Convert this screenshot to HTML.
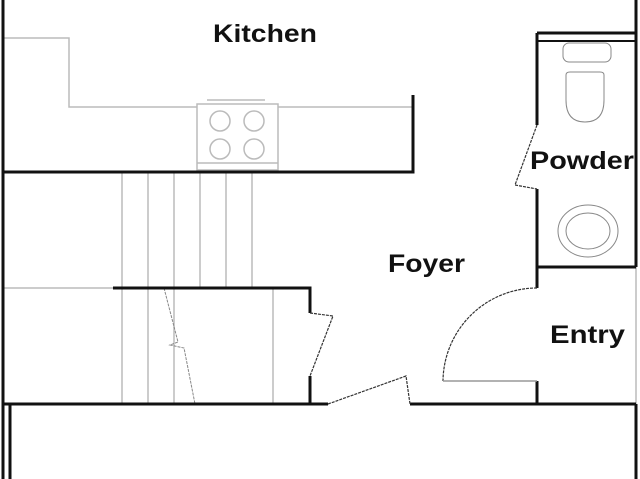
<!DOCTYPE html>
<html><head><style>body{margin:0;background:#fff}svg{display:block}text{font-family:"Liberation Sans",sans-serif;font-size:25px;fill:#111;font-weight:bold}</style></head><body>
<svg width="640" height="479" viewBox="0 0 640 479">
<g fill="none" stroke="#bbb" stroke-width="1.5">
<polyline points="3,38 69,38 69,107 413,107"/>
<rect x="197" y="104" width="81" height="66" fill="#fff"/>
<line x1="197" y1="163" x2="278" y2="163"/>
<line x1="207" y1="100" x2="265" y2="100"/>
<circle cx="220" cy="121" r="10"/><circle cx="254" cy="121" r="10"/>
<circle cx="220" cy="149" r="10"/><circle cx="254" cy="149" r="10"/>
<line x1="122" y1="172" x2="122" y2="404"/><line x1="148" y1="172" x2="148" y2="404"/><line x1="174" y1="172" x2="174" y2="404"/>
<line x1="200" y1="172" x2="200" y2="288"/><line x1="226" y1="172" x2="226" y2="288"/><line x1="252" y1="172" x2="252" y2="288"/>
<line x1="273" y1="288" x2="273" y2="404"/>
<line x1="3" y1="288" x2="113" y2="288"/>
<line x1="636" y1="267" x2="636" y2="404"/>
</g>
<polyline points="164,288 178,342 170,345 184,348 195,404" fill="none" stroke="#888" stroke-width="1" stroke-dasharray="3,1"/>
<g fill="none" stroke="#111" stroke-width="3">
<line x1="3" y1="0" x2="3" y2="479"/>
<line x1="10" y1="404" x2="10" y2="479"/>
<polyline points="3,172 413,172 413,95"/>
<polyline points="113,288 310,288 310,313"/>
<line x1="310" y1="376" x2="310" y2="404"/>
<line x1="3" y1="404" x2="328" y2="404"/>
<line x1="410" y1="404" x2="636" y2="404"/>
<line x1="636" y1="0" x2="636" y2="267"/>
<line x1="636" y1="404" x2="636" y2="479"/>
<line x1="537" y1="33" x2="636" y2="33"/>
<line x1="537" y1="41" x2="636" y2="41" stroke-width="2"/>
<line x1="537" y1="33" x2="537" y2="125"/>
<line x1="537" y1="189" x2="537" y2="288"/>
<line x1="537" y1="267" x2="636" y2="267"/>
<line x1="537" y1="381" x2="537" y2="404"/>
</g>
<g fill="none" stroke="#333" stroke-width="1.2" stroke-dasharray="3,1">
<polyline points="310,313 333,316 310,376"/>
<polyline points="328,404 406,376 410,404"/>
<polyline points="537,125 515,185 537,189"/>
<path d="M537,288 A94,94 0 0 0 443,381"/>
</g>
<line x1="443" y1="381" x2="537" y2="381" stroke="#999" stroke-width="1.5"/>
<g fill="none" stroke="#888" stroke-width="1">
<rect x="563" y="43" width="48" height="19" rx="6"/>
<path d="M566,75 Q566,72 570,72 L600,72 Q604,72 604,75 L604,100 Q604,122 585,122 Q566,122 566,100 Z"/>
<ellipse cx="588" cy="231" rx="30" ry="26"/>
<ellipse cx="588" cy="231" rx="22" ry="18"/>
</g>
<text x="213" y="42" textLength="104" lengthAdjust="spacingAndGlyphs">Kitchen</text>
<text x="530" y="169" textLength="104" lengthAdjust="spacingAndGlyphs">Powder</text>
<text x="388" y="272" textLength="77" lengthAdjust="spacingAndGlyphs">Foyer</text>
<text x="550" y="343" textLength="75" lengthAdjust="spacingAndGlyphs">Entry</text>
</svg>
</body></html>
